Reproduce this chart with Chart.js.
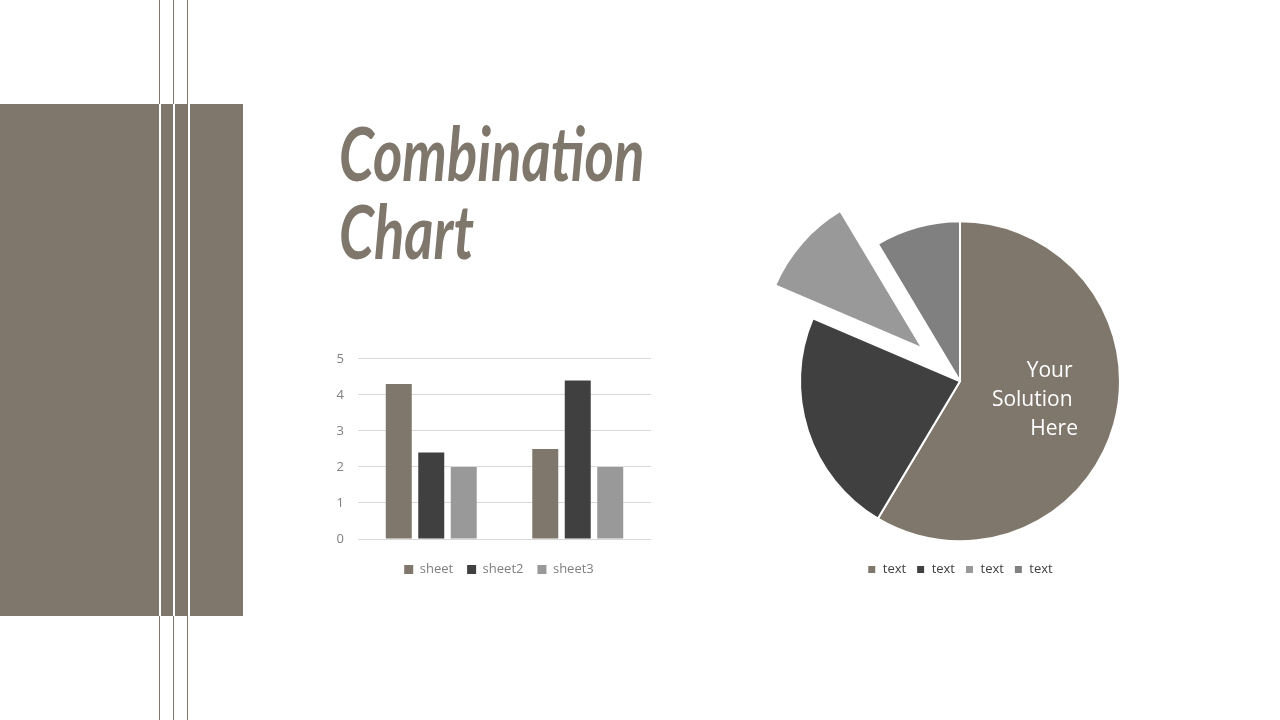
<!DOCTYPE html>
<html>
<head>
<meta charset="utf-8">
<script src="https://cdn.jsdelivr.net/npm/chart.js@4"></script>
<style>
  body { margin:0; width:1280px; height:720px; background:#fff; position:relative; overflow:hidden; font-family:"Open Sans", sans-serif; }
  .band { position:absolute; left:0; top:104px; width:243px; height:512px; background:#7f776b; }
  .vline { position:absolute; top:0; width:1px; height:720px; background:#7f776b; }
  .wline { position:absolute; top:104px; width:2px; height:512px; background:#fff; }
  .title { position:absolute; left:339px; color:#7f776b; font-family:"Lato", sans-serif; font-style:italic; font-weight:700; font-size:74px; line-height:1; transform-origin:left top; white-space:nowrap; }
  #barBox { position:absolute; left:320px; top:337px; width:358px; height:249px; }
  #pieBox { position:absolute; left:760px; top:190px; width:400px; height:396px; }
  .inner { position:absolute; color:#fff; font-size:21px; line-height:29px; text-align:right; left:960px; top:355px; width:118px; }
</style>
</head>
<body>
<div class="band"></div>
<div class="vline" style="left:159px"></div>
<div class="vline" style="left:173px"></div>
<div class="vline" style="left:187px"></div>
<div class="wline" style="left:159px"></div>
<div class="wline" style="left:173px"></div>
<div class="wline" style="left:188px"></div>

<div class="title" style="top:116px; transform:scaleX(0.76)">Combination</div>
<div class="title" style="top:194px; transform:scaleX(0.76)">Chart</div>

<div id="barBox"><canvas id="barChart"></canvas></div>
<div id="pieBox"><canvas id="pieChart"></canvas></div>
<div class="inner">Your&nbsp;<br>Solution&nbsp;<br>Here</div>

<script>
// bar chart data
var categories = ['Category 1', 'Category 2'];
var sheetVals  = [4.3, 2.5];
var sheet2Vals = [2.4, 4.4];
var sheet3Vals = [2, 2];
var yTicks     = [0, 1, 2, 3, 4, 5];

// pie chart data
var pieLabels  = ['text', 'text', 'text', 'text'];
var pieVals    = [8.2, 3.2, 1.4, 1.2];
var pieExplode = [0, 0, 50, 0];   // pixels the slice is pulled out

var brown = '#7f776b', dark = '#404040', light = '#999999', mid = '#808080';
var labelFont = { family: '"Open Sans", sans-serif', size: 13 };

function getBar(label, data, color)
{
  return {
    label: label,
    data: data,
    backgroundColor: color,
    borderWidth: 0,
    categoryPercentage: 0.665,
    barPercentage: 0.8
  };
}

var ctxBar = document.getElementById('barChart').getContext('2d');
var barChart = new Chart(ctxBar, {
  type: 'bar',
  data: {
    labels: categories,
    datasets: [getBar('sheet', sheetVals, brown), getBar('sheet2', sheet2Vals, dark), getBar('sheet3', sheet3Vals, light)]
  },
  options: {
    responsive: true,
    maintainAspectRatio: false,
    animation: false,
    layout: { padding: { left: 0, right: 0, top: 15, bottom: 0 } },
    scales: {
      x: {
        ticks: { display: false },
        grid: { display: false },
        border: { display: false },
        afterFit: function(scale) { scale.height = 10; }
      },
      y: {
        min: 0,
        max: 5,
        afterBuildTicks: function(scale) { scale.ticks = yTicks.map(function(v) { return { value: v }; }); },
        ticks: { color: '#7f7f7f', font: labelFont, padding: 14 },
        grid: { color: '#d9d9d9', drawTicks: false },
        border: { display: false },
        afterFit: function(scale) { scale.width = 38; }
      },
      // empty right axis, only keeps the legend centred like the original
      yPad: {
        position: 'right',
        display: true,
        ticks: { display: false },
        grid: { display: false },
        border: { display: false },
        afterFit: function(scale) { scale.width = 27; }
      }
    },
    plugins: {
      legend: {
        position: 'bottom',
        labels: { color: '#7f7f7f', font: labelFont, boxWidth: 9, boxHeight: 9, padding: 14 }
      },
      tooltip: { enabled: false }
    }
  }
});

// pulls exploded slices straight out along their mid angle
var explodePlugin = {
  id: 'explode',
  afterUpdate: function(chart) {
    var meta = chart.getDatasetMeta(0);
    meta.data.forEach(function(arc, i) {
      var d = pieExplode[i];
      if (!d || arc._patched) return;
      var orig = arc.draw;
      arc.draw = function(ctx, area) {
        var a = (this.startAngle + this.endAngle) / 2;
        ctx.save();
        ctx.translate(Math.cos(a) * d, Math.sin(a) * d);
        orig.call(this, ctx, area);
        ctx.restore();
      };
      arc._patched = true;
    });
  }
};

var ctxPie = document.getElementById('pieChart').getContext('2d');
var pieChart = new Chart(ctxPie, {
  type: 'pie',
  data: {
    labels: pieLabels,
    datasets: [{
      data: pieVals,
      backgroundColor: [brown, dark, light, mid],
      borderColor: '#ffffff',
      borderWidth: 2
    }]
  },
  options: {
    responsive: true,
    maintainAspectRatio: false,
    animation: false,
    radius: 160,
    layout: { padding: { top: 19.5, bottom: 0 } },
    plugins: {
      legend: {
        position: 'bottom',
        labels: { color: '#404040', font: labelFont, boxWidth: 9, boxHeight: 9, padding: 10 }
      },
      tooltip: { enabled: false }
    }
  },
  plugins: [explodePlugin]
});
</script>
</body>
</html>
